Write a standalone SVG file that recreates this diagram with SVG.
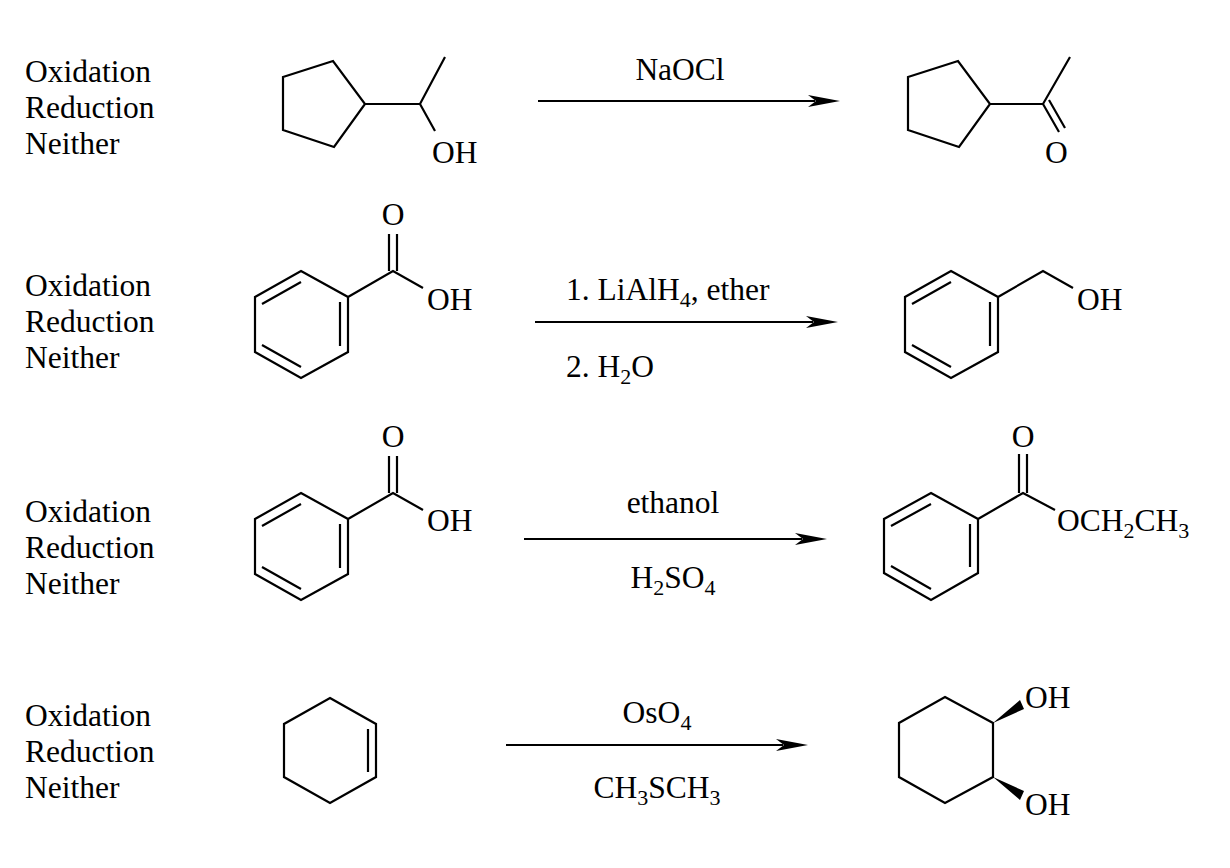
<svg xmlns="http://www.w3.org/2000/svg" width="1230" height="868" viewBox="0 0 1230 868">
<style>
text{font-family:"Liberation Serif","Times New Roman",serif;font-size:31.5px;fill:#000}
tspan.s{font-size:22px}
.b{fill:none;stroke:#000;stroke-width:2.2;stroke-linejoin:miter}
.m{text-anchor:middle}
</style>
<defs>
<path id="arrowhead" d="M0,0 L-32,-6 L-24,0 L-32,6 Z"/>
</defs>
<g id="labels">
<text x="25" y="82">Oxidation</text><text x="25" y="118">Reduction</text><text x="25" y="154">Neither</text>
<text x="25" y="296">Oxidation</text><text x="25" y="332">Reduction</text><text x="25" y="368">Neither</text>
<text x="25" y="522">Oxidation</text><text x="25" y="558">Reduction</text><text x="25" y="594">Neither</text>
<text x="25" y="726">Oxidation</text><text x="25" y="762">Reduction</text><text x="25" y="798">Neither</text>
</g>
<g id="r1-start">
<path class="b" d="M333,61 L283,77 L283,130 L334,147 L365,104 Z M365,104 L420,104 L445,57 M420,104 L435,131"/>
<text x="432" y="163">OH</text>
</g>
<g id="r1-product">
<path class="b" d="M958,61 L908,77 L908,130 L959,147 L990,104 Z M990,104 L1043,104 L1070,57 M1043,104 L1059,132 M1049,100 L1065,128"/>
<text x="1045" y="163">O</text>
</g>
<g id="r2-start">
<path class="b" d="M301,271 L348,297 L348,352 L301,378 L255,352 L255,297 Z M262,304 L301,282 M340,302 L340,346 M262,345 L301,367 M348,297 L393,271 L423,288 M389,271 L389,234 M397,271 L397,234"/>
<text x="393" y="225" class="m">O</text><text x="427" y="310">OH</text>
</g>
<g id="r2-product">
<path class="b" d="M951,271 L998,297 L998,352 L951,378 L905,352 L905,297 Z M912,304 L951,282 M990,302 L990,346 M912,345 L951,367 M998,297 L1043,271 L1073,288"/>
<text x="1077" y="310">OH</text>
</g>
<g id="r3-start">
<path class="b" d="M301,493 L348,519 L348,574 L301,600 L255,574 L255,519 Z M262,526 L301,504 M340,524 L340,568 M262,567 L301,589 M348,519 L393,493 L423,510 M389,493 L389,456 M397,493 L397,456"/>
<text x="393" y="447" class="m">O</text><text x="427" y="531">OH</text>
</g>
<g id="r3-product">
<path class="b" d="M931,493 L978,519 L978,573 L931,600 L884,573 L884,519 Z M891,526 L931,504 M970,524 L970,567 M891,566 L931,589 M978,519 L1023,493 L1055,510 M1019,493 L1019,454 M1027,493 L1027,454"/>
<text x="1023" y="447" class="m">O</text>
<text x="1057" y="531">OCH<tspan class="s" dy="7">2</tspan><tspan dy="-7">CH</tspan><tspan class="s" dy="7">3</tspan></text>
</g>
<g id="r4-start">
<path class="b" d="M330,698 L376,724 L376,777 L330,803 L284,777 L284,724 Z M368,729 L368,772"/>
</g>
<g id="r4-product">
<path class="b" d="M945,697 L993,723 L993,777 L945,803 L899,777 L899,723 Z"/>
<path d="M993,723 L1020,700 L1024,709 Z M993,777 L1020,800 L1024,791 Z"/>
<text x="1025" y="708">OH</text><text x="1025" y="815">OH</text>
</g>
<g id="connectors">
<line class="b" x1="538" y1="101" x2="815" y2="101"/><use href="#arrowhead" x="840" y="101"/>
<line class="b" x1="535" y1="322" x2="813" y2="322"/><use href="#arrowhead" x="838" y="322"/>
<line class="b" x1="524" y1="539" x2="802" y2="539"/><use href="#arrowhead" x="827" y="539"/>
<line class="b" x1="506" y1="745" x2="783" y2="745"/><use href="#arrowhead" x="808" y="745"/>
</g>
<g id="reagents">
<text x="680" y="80" class="m">NaOCl</text>
<text x="566" y="300">1. LiAlH<tspan class="s" dy="7">4</tspan><tspan dy="-7">, ether</tspan></text>
<text x="566" y="377">2. H<tspan class="s" dy="7">2</tspan><tspan dy="-7">O</tspan></text>
<text x="673" y="513" class="m">ethanol</text>
<text x="673" y="588" class="m">H<tspan class="s" dy="7">2</tspan><tspan dy="-7">SO</tspan><tspan class="s" dy="7">4</tspan></text>
<text x="657" y="723" class="m">OsO<tspan class="s" dy="7">4</tspan></text>
<text x="657" y="798" class="m">CH<tspan class="s" dy="7">3</tspan><tspan dy="-7">SCH</tspan><tspan class="s" dy="7">3</tspan></text>
</g>
</svg>
